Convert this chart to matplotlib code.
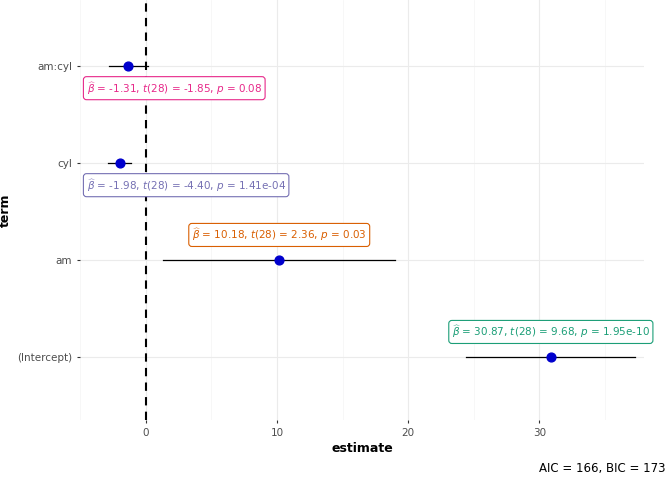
import matplotlib
matplotlib.use("Agg")
import matplotlib.pyplot as plt

terms = ["(Intercept)", "am", "cyl", "am:cyl"]
estimate = [30.87, 10.18, -1.98, -1.31]
conf_low = [24.4, 1.35, -2.9, -2.8]
conf_high = [37.3, 19.0, -1.1, 0.2]
tstat = ["9.68", "2.36", "-4.40", "-1.85"]
pvals = ["1.95e-10", "0.03", "1.41e-04", "0.08"]
label_colors = ["#1b9e77", "#d95f02", "#7570b3", "#e7298a"]

fig = plt.figure(figsize=(6.72, 4.8), dpi=100)
ax = fig.add_axes([0.119, 0.125, 0.84, 0.875])
ax.set_facecolor("white")
for s in ax.spines.values():
    s.set_visible(False)

y = list(range(len(terms)))
for i in y:
    ax.plot([conf_low[i], conf_high[i]], [i, i], color="black", lw=0.9, zorder=2)
ax.scatter(estimate, y, s=40, color="#0000cd", zorder=3)
ax.axvline(0, color="black", ls=(0, (4, 3)), lw=1.5, zorder=2)

for i in y:
    txt = (r"$\widehat{\beta}$" + f" = {estimate[i]:.2f}, " + r"$t$" + f"(28) = {tstat[i]}, "
           + r"$p$" + f" = {pvals[i]}")
    if i < 2:
        ax.annotate(txt, (estimate[i], i), xytext=(0, 18), textcoords="offset points",
                    ha="center", va="center", fontsize=7.5, color=label_colors[i],
                    bbox=dict(boxstyle="round,pad=0.3", fc="white", ec=label_colors[i], lw=0.8), zorder=4)
    else:
        ax.annotate(txt, (-4.5, i), xytext=(0, -16), textcoords="offset points",
                    ha="left", va="center", fontsize=7.5, color=label_colors[i],
                    bbox=dict(boxstyle="round,pad=0.3", fc="white", ec=label_colors[i], lw=0.8), zorder=4)

ax.set_xlim(-4.9, 38)
ax.set_ylim(-0.65, 3.68)
ax.set_yticks(y)
ax.set_yticklabels(terms, fontsize=7.5, color="#4d4d4d")
ax.set_xticks([0, 10, 20, 30])
ax.set_xticklabels(["0", "10", "20", "30"], fontsize=7.5, color="#4d4d4d")
ax.set_xticks([-5, 5, 15, 25, 35], minor=True)
ax.grid(True, which="major", color="#ebebeb", lw=0.8)
ax.grid(True, which="minor", axis="x", color="#f4f4f4", lw=0.5)
ax.set_axisbelow(True)
ax.tick_params(length=2, color="#333333")
ax.tick_params(which="minor", length=0)
ax.set_xlabel("estimate", fontsize=9, fontweight="bold", labelpad=3)
ax.set_ylabel("term", fontsize=9, fontweight="bold")

fig.text(0.99, 0.01, "AIC = 166, BIC = 173", ha="right", va="bottom", fontsize=8.5)
fig.savefig("out.png", dpi=100)
